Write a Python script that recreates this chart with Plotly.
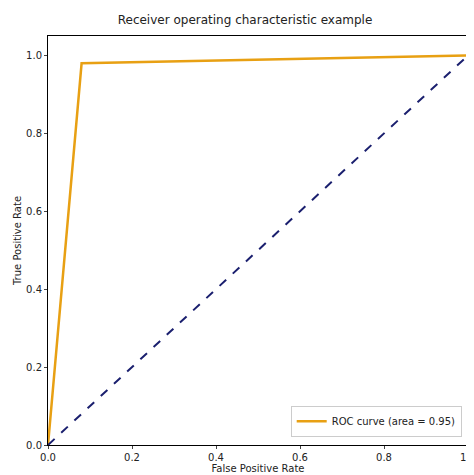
import plotly.graph_objects as go

fpr = [0.0, 0.08, 1.0]
tpr = [0.0, 0.98, 1.0]
diag_x = [0.0, 1.0]
diag_y = [0.0, 1.0]
roc_auc = 0.95
ticks = [0.0, 0.2, 0.4, 0.6, 0.8, 1.0]

fig = go.Figure()
fig.add_trace(go.Scatter(x=fpr, y=tpr, mode="lines",
                         line=dict(color="#e8a013", width=2.5),
                         name="ROC curve (area = %0.2f)" % roc_auc))
fig.add_trace(go.Scatter(x=diag_x, y=diag_y, mode="lines",
                         line=dict(color="#1a1f6e", width=2, dash="dash"),
                         showlegend=False))

axis = dict(showgrid=False, zeroline=False, showline=True, mirror=True,
            linecolor="black", linewidth=1, ticks="outside", ticklen=3,
            tickvals=ticks, tickformat=".1f", tickfont=dict(size=10),
            automargin=False)
fig.update_layout(
    width=474, height=475,
    font=dict(family="DejaVu Sans", color="#222"),
    paper_bgcolor="white", plot_bgcolor="white",
    margin=dict(l=40, r=14, t=28, b=38),
    title=dict(text="Receiver operating characteristic example",
               x=0.5, xanchor="center", y=0.985, font=dict(size=12)),
    xaxis=dict(axis, range=[0, 1.0],
               title=dict(text="False Positive Rate", font=dict(size=10), standoff=2)),
    yaxis=dict(axis, range=[0, 1.05],
               title=dict(text="True Positive Rate", font=dict(size=10), standoff=2)),
    legend=dict(x=0.985, y=0.02, xanchor="right", yanchor="bottom",
                bgcolor="white", bordercolor="#ccc", borderwidth=1,
                font=dict(size=10)),
)
fig.write_html("out.html")
